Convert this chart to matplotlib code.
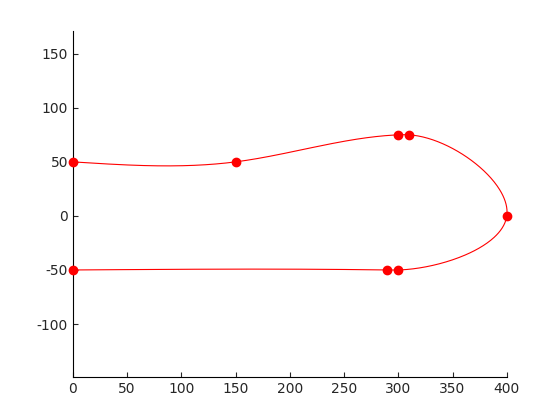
import matplotlib
matplotlib.use('Agg')
import matplotlib.pyplot as plt
import numpy as np

plt.rcParams['axes.unicode_minus'] = False

px = [0, 150, 300, 310, 400, 300, 290, 0]
py = [50, 50, 75, 75, 0, -50, -50, -50]


def natural_spline(t, y, tt):
    n = len(t)
    h = np.diff(t)
    A = np.zeros((n, n))
    b = np.zeros(n)
    A[0, 0] = A[-1, -1] = 1
    for i in range(1, n - 1):
        A[i, i - 1] = h[i - 1]
        A[i, i] = 2 * (h[i - 1] + h[i])
        A[i, i + 1] = h[i]
        b[i] = 6 * ((y[i + 1] - y[i]) / h[i] - (y[i] - y[i - 1]) / h[i - 1])
    M = np.linalg.solve(A, b)
    out = np.empty_like(tt)
    for k, x in enumerate(tt):
        i = min(np.searchsorted(t, x, side='right') - 1, n - 2)
        a, c = t[i + 1] - x, x - t[i]
        out[k] = (M[i] * a**3 + M[i + 1] * c**3) / (6 * h[i]) \
            + (y[i] / h[i] - M[i] * h[i] / 6) * a + (y[i + 1] / h[i] - M[i + 1] * h[i] / 6) * c
    return out


x = np.array(px, float)
y = np.array(py, float)
t = np.concatenate([[0], np.cumsum(np.hypot(np.diff(x), np.diff(y)))])
tt = np.linspace(0, t[-1], 800)

fig = plt.figure(figsize=(5.6, 4.2), dpi=100)
ax = fig.add_axes([0.13, 0.1024, 0.775, 0.8236])
ax.plot(natural_spline(t, x, tt), natural_spline(t, y, tt), 'r-', lw=0.8, clip_on=False)
ax.plot(px, py, 'o', color='red', ms=6, clip_on=False, zorder=3)
ax.set_xlim(0, 400)
ax.set_ylim(-149, 171)
ax.set_xticks(range(0, 401, 50))
ax.set_yticks(range(-100, 151, 50))
for s in ['top', 'right']:
    ax.spines[s].set_visible(False)
ax.tick_params(labelsize=10, direction='in', colors='#262626')
fig.savefig('out.png', dpi=100)
